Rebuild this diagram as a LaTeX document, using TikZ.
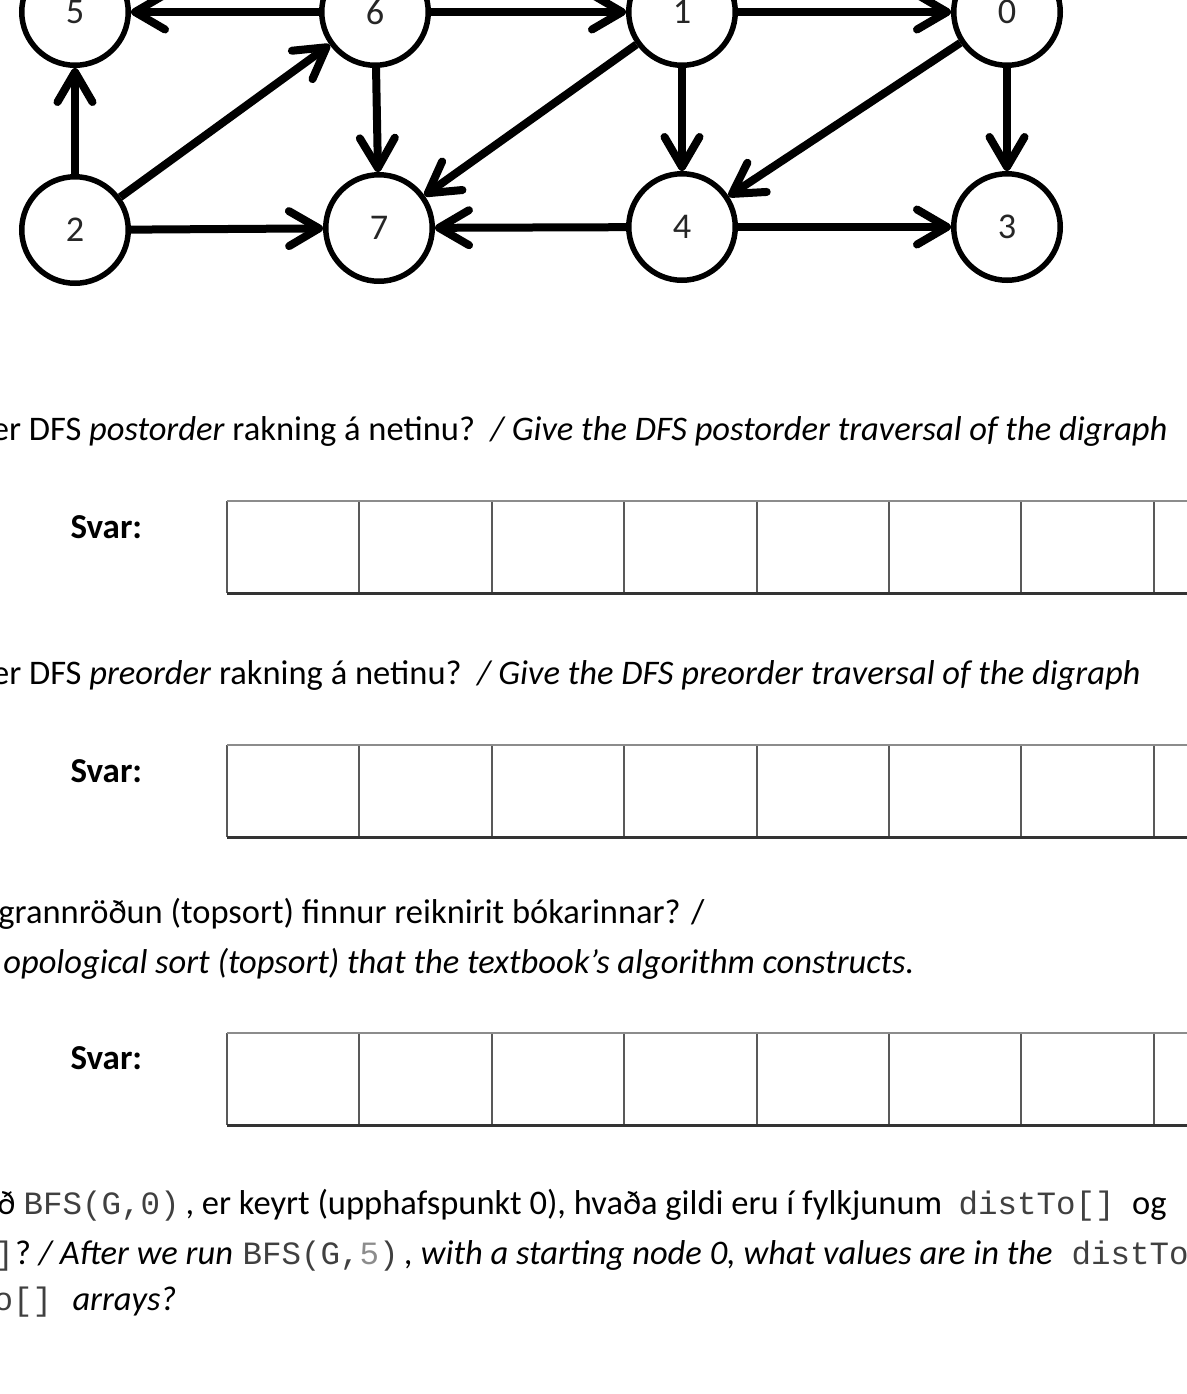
\documentclass[tikz,border=0pt]{standalone}
\usepackage{fontspec}
\setmainfont{Carlito}
\setmonofont{Liberation Mono}
\usetikzlibrary{arrows.meta}
\begin{document}
\begin{tikzpicture}[x=0.4pt,y=-0.4pt,
  vtx/.style={circle,draw,line width=2.2pt,fill=white,minimum size=42.6pt,inner sep=0pt,
    text=black!85,font=\fontsize{14.5}{16}\selectfont},
  edge/.style={line width=3.2pt,-{Straight Barb[length=12pt,width=14pt,round]}},
  body/.style={inner sep=0pt,font=\fontsize{13.8}{16}\selectfont},
  code/.style={inner sep=0pt,text=black!75,font=\fontsize{13}{16}\selectfont\ttfamily},
  svar/.style={inner sep=0pt,font=\fontsize{14}{16}\selectfont\bfseries},
  celltop/.style={draw=black!45,line width=1.1pt},
  cellbot/.style={draw=black!80,line width=1.2pt},
  cellsep/.style={draw=black!65,line width=0.8pt}]
\useasboundingbox (0,0) rectangle (1187,1394);
\clip (0,0) rectangle (1187,1394);
% graph
\node[vtx] (n5) at (75,12) {5};
\node[vtx] (n6) at (375,12) {6};
\node[vtx] (n1) at (682,12) {1};
\node[vtx] (n0) at (1007,12) {0};
\node[vtx] (n2) at (75,230) {2};
\node[vtx] (n7) at (379,228) {7};
\node[vtx] (n4) at (682,227) {4};
\node[vtx] (n3) at (1007,227) {3};
\draw[edge] (n6) -- (n5);
\draw[edge] (n6) -- (n1);
\draw[edge] (n1) -- (n0);
\draw[edge] (n2) -- (n5);
\draw[edge] (n2) -- (n6);
\draw[edge] (n6) -- (n7);
\draw[edge] (n1) -- (n7);
\draw[edge] (n1) -- (n4);
\draw[edge] (n0) -- (n4);
\draw[edge] (n0) -- (n3);
\draw[edge] (n2) -- (n7);
\draw[edge] (n4) -- (n7);
\draw[edge] (n4) -- (n3);
% answer boxes
\foreach \yy in {501,745,1033} {
  \foreach \k in {0,...,7} \draw[cellsep] (227+\k*132.4,\yy) -- (227+\k*132.4,\yy+92);
  \draw[celltop] (227,\yy) -- (1187,\yy);
  \draw[cellbot] (227,\yy+92) -- (1187,\yy+92);
}
% texts
\node[body,anchor=base east] (q1) at (1168,440)
  {er DFS \textit{postorder} rakning á netinu?\ \ \textit{/ Give the DFS postorder traversal of the digraph}};
\node[svar,anchor=base west] (s1) at (70,538) {Svar:};
\node[body,anchor=base east] (q2) at (1141,684)
  {er DFS \textit{preorder} rakning á netinu?\ \ \textit{/ Give the DFS preorder traversal of the digraph}};
\node[svar,anchor=base west] (s2) at (70,782) {Svar:};
\node[body,anchor=base west] (q3a) at (-2,923)
  {grannröðun (topsort) finnur reiknirit bókarinnar? /};
\node[body,anchor=base east] (q3b) at (915,973)
  {\textit{opological sort (topsort) that the textbook’s algorithm constructs.}};
\node[svar,anchor=base west] (s3) at (70,1069) {Svar:};
% question 4, line 1
\node[body,anchor=base east] (a0) at (16,1214) {ð};
\node[code,anchor=base west] (a1) at (23,1214) {BFS(G,0)};
\node[body,anchor=base west] (a2) at ([xshift=2]a1.base east) {, er keyrt (upphafspunkt 0), hvaða gildi eru í fylkjunum};
\node[code,anchor=base west] (a3) at (958,1214) {distTo[]};
\node[body,anchor=base east] (a4) at (1167,1214) {og};
% question 4, line 2
\node[code,anchor=base west] (b0) at (-6,1264) {]};
\node[body,anchor=base west] (b1) at (b0.base east) {?\ \textit{/ After we run}};
\node[code,anchor=base west] (b2) at (242,1264) {BFS(G,{\color{black!45}5})};
\node[body,anchor=base west] (b3) at ([xshift=2]b2.base east) {\textit{, with a starting node 0, what values are in the}};
\node[code,anchor=base west] (b4) at (1071,1264) {distTo};
% question 4, line 3
\node[code,anchor=base west] (c0) at (-7,1310) {o[]};
\node[body,anchor=base west] (c1) at (72,1310) {\textit{arrays?}};
\end{tikzpicture}
\end{document}
